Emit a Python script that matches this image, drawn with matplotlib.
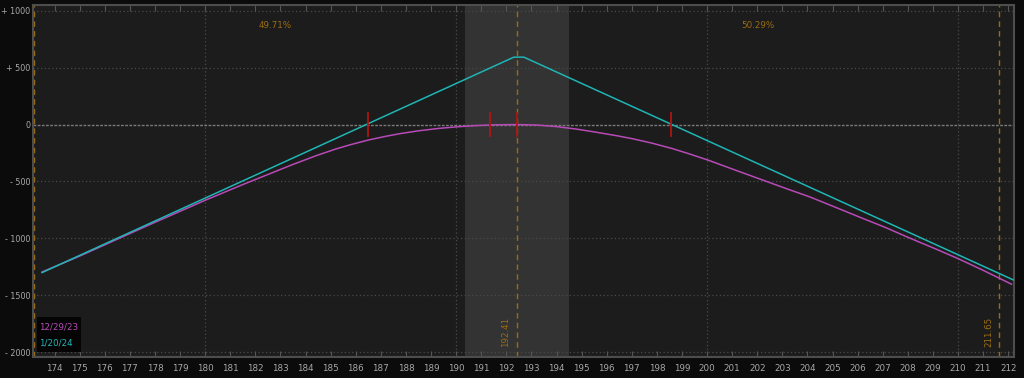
import matplotlib
matplotlib.use("Agg")
import matplotlib.pyplot as plt
from matplotlib import font_manager

# ---- data ----
exp_label = "1/20/24"
exp_x = [173.5, 192.3, 192.7, 212.2]
exp_y = [-1300, 592, 592, -1364]

now_label = "12/29/23"
now_x = [173.5, 175.0, 177.8, 180.0, 181.5, 183.5, 184.44, 185.2, 185.77, 186.5,
         187.2, 187.76, 188.5, 189.3, 190.02, 190.8, 191.6, 192.41, 193.2, 194.0,
         194.8, 195.6, 196.4, 197.04, 197.8, 198.6, 199.3, 200.05, 201.0, 202.1,
         203.1, 204.1, 205.1, 206.1, 207.1, 208.0, 209.0, 210.0, 211.0, 212.13]
now_y = [-1295, -1155, -878, -665, -527, -350, -272, -215, -178, -136,
         -103, -80, -55, -34, -20, -9, -2, 0, -4, -18,
         -40, -68, -98, -125, -163, -210, -258, -313, -390, -478,
         -558, -636, -725, -815, -903, -990, -1082, -1177, -1280, -1402]

marker_x = [186.5, 191.37, 192.41, 198.56]
price_lines = [173.17, 192.41, 211.65]
price_labels = ["", "192.41", "211.65"]
band = (190.37, 194.51)
prob_labels = ["49.71%", "50.29%"]
xticks = list(range(174, 213))
yticks = [1000, 500, 0, -500, -1000, -1500, -2000]
ytick_labels = ["+ 1000", "+ 500", "0", "- 500", "- 1000", "- 1500", "- 2000"]

# ---- style ----
names = {f.name for f in font_manager.fontManager.ttflist}
narrow = "Liberation Sans Narrow" if "Liberation Sans Narrow" in names else "DejaVu Sans"
plt.rcParams["font.family"] = [narrow, "DejaVu Sans"]

BG = "#0b0b0b"
AX = "#1c1c1c"
CYAN = "#1fb5b5"
MAG = "#b84ab8"
ORANGE = "#9a6c12"
GRID = "#4a4a4a"
TXT = "#a8a8a8"
FS = 7.5 if narrow != "DejaVu Sans" else 6.3
YFS = 7.0 if narrow != "DejaVu Sans" else 5.8

fig = plt.figure(figsize=(10.24, 3.78), dpi=100, facecolor=BG)
ax = fig.add_axes([33/1024, 1-357.3/378, (1014-33)/1024, (357.3-5)/378])
ax.set_facecolor(AX)
ax.set_xlim(173.14, 212.23)
ax.set_ylim(-2044, 1050)

ax.axvspan(band[0], band[1], color="#333333", zorder=0.5, lw=0)

for y in yticks:
    if y == 0:
        ax.axhline(0, color="#7a7a7a", lw=1.0, ls=(0, (2, 1)), zorder=1)
    else:
        ax.axhline(y, color=GRID, lw=0.9, ls=(0, (1, 2)), zorder=1)
for x in range(180, 212, 10):
    ax.axvline(x, color=GRID, lw=0.9, ls=(0, (1, 2)), zorder=1)

for px in price_lines:
    ax.axvline(px, color=ORANGE, lw=1.0, ls=(0, (4, 3)), zorder=2)

ax.plot(now_x, now_y, color=MAG, lw=1.1, zorder=3)
ax.plot(exp_x, exp_y, color=CYAN, lw=1.1, zorder=4)

for mx in marker_x:
    ax.plot([mx, mx], [-100, 100], color="#b01414", lw=1.3, zorder=5)

# probability labels
ax.text((price_lines[0] + price_lines[1]) / 2, 870, prob_labels[0], color=ORANGE,
        fontsize=FS, ha="center", va="center")
ax.text((price_lines[1] + price_lines[2]) / 2, 870, prob_labels[1], color=ORANGE,
        fontsize=FS, ha="center", va="center")

for px, lab in zip(price_lines, price_labels):
    if lab:
        ax.text(px - 0.25, -1820, lab, color=ORANGE, fontsize=FS, rotation=90,
                ha="right", va="center")

# legend box
ax.text(173.4, -1780, now_label, color=MAG, fontsize=FS, va="center", ha="left", zorder=7)
ax.text(173.4, -1920, exp_label, color=CYAN, fontsize=FS, va="center", ha="left", zorder=7)
ax.add_patch(plt.Rectangle((173.3, -2000), 1.75, 310, facecolor="#050505",
                           edgecolor="none", zorder=6))

ax.set_xticks(xticks)
ax.set_xticklabels([str(t) for t in xticks])
ax.set_yticks(yticks)
ax.set_yticklabels(ytick_labels)
ax.tick_params(axis="x", direction="in", length=4, color="#555555", labelcolor=TXT,
               labelsize=FS, top=True, pad=5)
ax.tick_params(axis="y", length=0, labelcolor=TXT, labelsize=YFS, pad=2)
for s in ax.spines.values():
    s.set_color("#4d4d4d")
    s.set_linewidth(1.5)

fig.savefig("out.png", dpi=100, facecolor=BG)
